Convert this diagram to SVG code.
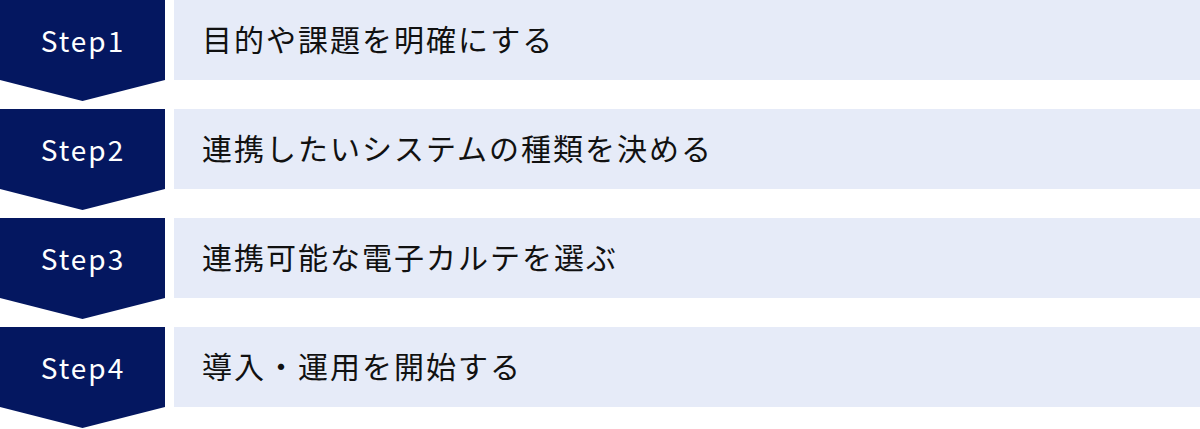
<svg xmlns="http://www.w3.org/2000/svg" width="1200" height="429" viewBox="0 0 1200 429">
<style>
.step{fill:#041760}
.bar{fill:#e6ebf8}
.lbl{font-family:"Noto Sans CJK JP","Noto Sans",sans-serif;font-size:28px;fill:#ffffff;text-anchor:middle;letter-spacing:2px}
.txt{font-family:"Noto Sans CJK JP","Noto Sans",sans-serif;font-size:30px;fill:#111111;letter-spacing:2px}
</style>
<rect width="1200" height="429" fill="#ffffff"/>
<g id="step1">
<polygon class="step" points="0,0 165,0 165,80 82.5,101 0,80"/>
<rect class="bar" x="174" y="0" width="1026" height="80"/>
<text class="lbl" x="83" y="52">Step1</text>
<text class="txt" x="202" y="51">目的や課題を明確にする</text>
</g>
<g id="step2">
<polygon class="step" points="0,109 165,109 165,189 82.5,210 0,189"/>
<rect class="bar" x="174" y="109" width="1026" height="80"/>
<text class="lbl" x="83" y="161">Step2</text>
<text class="txt" x="202" y="160">連携したいシステムの種類を決める</text>
</g>
<g id="step3">
<polygon class="step" points="0,218 165,218 165,298 82.5,319 0,298"/>
<rect class="bar" x="174" y="218" width="1026" height="80"/>
<text class="lbl" x="83" y="270">Step3</text>
<text class="txt" x="202" y="269">連携可能な電子カルテを選ぶ</text>
</g>
<g id="step4">
<polygon class="step" points="0,327 165,327 165,407 82.5,428 0,407"/>
<rect class="bar" x="174" y="327" width="1026" height="80"/>
<text class="lbl" x="83" y="379">Step4</text>
<text class="txt" x="202" y="378">導入・運用を開始する</text>
</g>
<g id="connectors"></g>
</svg>
